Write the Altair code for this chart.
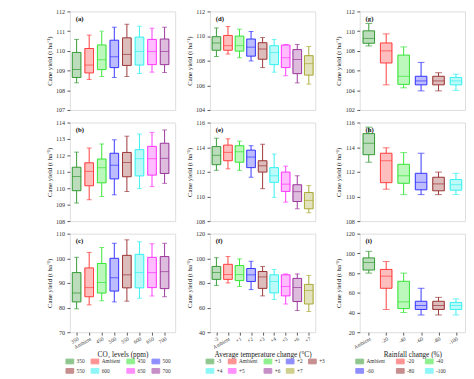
import altair as alt
import pandas as pd

FONT = "Liberation Serif"

# ---------------- categories ----------------
CO2_CATS = ["350", "Ambient", "450", "500", "550", "600", "650", "700"]
TEMP_CATS = ["-3", "Ambient", "+1", "+2", "+3", "+4", "+5", "+6", "+7"]
RAIN_CATS = ["Ambient", "-20", "-40", "-60", "-80", "-100"]

CO2_COLORS = ["#339933", "#ff3b3b", "#33e633", "#3333ff", "#993333", "#33f0f0", "#ff33ff", "#993399"]
TEMP_COLORS = ["#339933", "#ff3b3b", "#33e633", "#3333ff", "#993333", "#33f0f0", "#ff33ff", "#993399", "#a8a833"]
RAIN_COLORS = ["#339933", "#ff3b3b", "#33e633", "#3333ff", "#993333", "#33f0f0"]

# ---------------- (a) ----------------
a_low = [108.38, 108.55, 108.7, 108.65, 108.7, 108.85, 108.92, 108.9]
a_q1 = [108.65, 108.88, 109.05, 109.15, 109.26, 109.28, 109.3, 109.3]
a_med = [109.05, 109.28, 109.55, 109.7, 109.82, 109.97, 109.97, 109.97]
a_q3 = [109.92, 110.12, 110.3, 110.54, 110.66, 110.7, 110.58, 110.6]
a_high = [110.58, 110.8, 111.0, 111.2, 111.35, 111.25, 111.15, 111.2]
# ---------------- (b) ----------------
b_low = [109.1, 109.3, 109.5, 109.6, 109.8, 109.98, 110.1, 110.3]
b_q1 = [109.85, 110.15, 110.33, 110.57, 110.7, 110.75, 110.8, 110.9]
b_med = [110.72, 111.03, 111.25, 111.4, 111.57, 111.8, 111.8, 111.82]
b_q3 = [111.28, 111.55, 111.78, 112.13, 112.18, 112.35, 112.55, 112.74]
b_high = [112.2, 112.45, 112.7, 112.95, 113.17, 113.3, 113.4, 113.55]
# ---------------- (c) ----------------
c_low = [79.5, 81.1, 82.8, 82.3, 82.6, 83.8, 84.7, 84.4]
c_q1 = [82.3, 84.4, 85.9, 86.7, 88.0, 88.0, 88.1, 87.7]
c_med = [85.9, 88.1, 90.2, 92.1, 93.3, 94.2, 94.2, 94.6]
c_q3 = [94.2, 96.1, 97.9, 100.0, 101.2, 101.6, 100.4, 100.7]
c_high = [100.4, 102.4, 104.4, 106.1, 107.5, 106.7, 105.9, 106.1]
# ---------------- (d) ----------------
d_low = [108.34, 108.54, 108.24, 107.98, 107.44, 107.07, 106.78, 106.2, 106.1]
d_q1 = [108.85, 108.85, 108.78, 108.37, 108.12, 107.68, 107.44, 106.95, 106.83]
d_med = [109.44, 109.22, 109.22, 109.1, 108.95, 108.66, 108.24, 108.1, 107.76]
d_q3 = [109.95, 110.05, 110.0, 109.76, 109.46, 109.22, 109.27, 108.9, 108.41]
d_high = [110.66, 110.78, 110.56, 110.37, 109.88, 109.73, 109.32, 109.32, 109.15]
# ---------------- (e) ----------------
e_low = [112.12, 112.24, 112.12, 111.56, 110.63, 109.93, 109.54, 109.0, 108.68]
e_q1 = [112.58, 112.9, 112.78, 112.34, 111.98, 111.15, 110.41, 109.59, 109.0]
e_med = [113.34, 113.58, 113.63, 113.2, 112.49, 111.68, 111.0, 110.39, 109.68]
e_q3 = [114.05, 114.17, 114.12, 113.76, 112.9, 112.34, 111.98, 110.95, 110.32]
e_high = [114.73, 114.68, 114.49, 114.12, 114.24, 113.44, 112.46, 111.68, 110.88]
# ---------------- (f) ----------------
f_low = [78.0, 80.0, 77.1, 74.6, 69.5, 66.6, 62.9, 57.6, 56.8]
f_q1 = [82.9, 82.9, 81.9, 81.2, 75.6, 71.9, 69.5, 64.9, 62.9]
f_med = [88.5, 86.8, 86.8, 86.6, 84.9, 81.2, 77.1, 76.3, 73.9]
f_q3 = [93.4, 95.1, 94.1, 91.7, 89.3, 86.6, 86.6, 83.7, 78.8]
f_high = [100.5, 101.5, 99.5, 97.6, 93.4, 91.0, 87.3, 87.3, 86.1]
# ---------------- (g) ----------------
g_low = [108.5, 104.55, 104.25, 103.94, 103.94, 104.0]
g_q1 = [108.77, 106.77, 104.6, 104.55, 104.55, 104.55]
g_med = [109.26, 108.0, 105.42, 104.95, 104.95, 104.95]
g_q3 = [110.03, 108.8, 107.57, 105.42, 105.42, 105.3]
g_high = [110.77, 109.72, 108.4, 106.83, 105.78, 105.63]
# ---------------- (h) ----------------
h_low = [112.78, 110.59, 110.15, 110.15, 110.15, 110.15]
h_q1 = [113.39, 111.12, 111.07, 110.54, 110.46, 110.51]
h_med = [114.32, 112.9, 111.68, 111.15, 111.02, 110.95]
h_q3 = [115.1, 113.51, 112.61, 111.88, 111.56, 111.37]
h_high = [115.63, 113.95, 113.56, 113.51, 111.98, 111.88]
# ---------------- (i) ----------------
i_low = [80.0, 43.1, 40.0, 37.5, 37.5, 37.5]
i_q1 = [83.1, 64.6, 44.0, 43.1, 43.1, 43.1]
i_med = [90.8, 76.9, 50.8, 47.1, 47.1, 47.1]
i_q3 = [95.4, 83.7, 71.7, 51.4, 51.4, 50.2]
i_high = [102.1, 91.7, 80.0, 64.6, 55.4, 53.8]

W = 109
H = 102
YTITLE = "Cane yield (t ha\u207b\u00b9)"
LEG_SYMBOL = "M-1.15,-0.7L1.15,-0.7L1.15,0.7L-1.15,0.7Z"


def panel(cats, colors, low, q1, med, q3, high, ydom, yvals, label,
          bottom, xtitle, box, cap, pad, align, legcols, colpad):
    df = pd.DataFrame({"cat": cats, "low": low, "q1": q1, "med": med,
                       "q3": q3, "high": high})
    if bottom:
        xaxis = alt.Axis(title=xtitle, labelAngle=-30, labelFontSize=5.5,
                         labelFont=FONT, labelColor="#333", tickSize=3,
                         tickColor="#555", domain=False, labelPadding=1,
                         titleFont=FONT, titleFontSize=7.5,
                         titleFontWeight="normal", titleColor="#222",
                         titlePadding=1)
    else:
        xaxis = None
    x = alt.X("cat:N", sort=cats, axis=xaxis,
              scale=alt.Scale(type="point", domain=cats, padding=pad, align=align))
    ys = alt.Scale(domain=ydom, nice=False, zero=False)
    yaxis = alt.Axis(title=YTITLE, values=yvals, labelFontSize=6.3,
                     labelFont=FONT, labelColor="#333", tickSize=3,
                     tickColor="#555", domain=False, grid=False,
                     labelOverlap=False, labelFlush=False, labelBound=False,
                     labelPadding=2.5, titleFont=FONT, titleFontSize=7,
                     titleFontWeight="normal", titleColor="#222",
                     titlePadding=3.5)
    if bottom:
        leg = alt.Legend(orient="none", legendX=-4, legendY=H + 26,
                         direction="horizontal",
                         columns=legcols, title=None, symbolType=LEG_SYMBOL,
                         symbolSize=49, symbolStrokeWidth=1,
                         symbolOpacity=0.55, labelFont=FONT,
                         labelFontSize=5.5, labelColor="#333",
                         labelOffset=3, columnPadding=colpad, rowPadding=0,
                         padding=0)
    else:
        leg = None
    color = alt.Color("cat:N", sort=cats, legend=leg,
                      scale=alt.Scale(domain=cats, range=colors))
    base = alt.Chart(df).encode(x=x, color=color)

    def Y(field):
        return alt.Y(field, scale=ys, axis=yaxis)

    fillbar = base.mark_bar(size=box, fillOpacity=0.33).encode(
        y=Y("q1:Q"), y2="q3:Q")
    whisk = base.mark_rule(strokeWidth=1).encode(y=Y("low:Q"), y2="high:Q")
    cover = base.mark_bar(size=box - 1, fill="white", stroke=None).encode(
        y=Y("q1:Q"), y2="q3:Q", color=alt.value("white"))
    fillbar_top = base.mark_bar(size=box, fillOpacity=0.33, stroke=None).encode(
        y=Y("q1:Q"), y2="q3:Q")
    outline = base.mark_bar(size=box, filled=False, strokeWidth=1).encode(
        y=Y("q1:Q"), y2="q3:Q")
    medtick = base.mark_tick(size=box, thickness=1).encode(y=Y("med:Q"))
    cap_lo = base.mark_tick(size=cap, thickness=1).encode(y=Y("low:Q"))
    cap_hi = base.mark_tick(size=cap, thickness=1).encode(y=Y("high:Q"))
    lab = alt.Chart(pd.DataFrame({"t": [label]})).mark_text(
        font=FONT, fontSize=7, fontWeight="bold", align="left",
        baseline="middle", color="#111").encode(
        text="t:N", x=alt.value(6), y=alt.value(8))
    layer = alt.layer(fillbar, whisk, cover, fillbar_top, outline, medtick,
                      cap_lo, cap_hi, lab).properties(width=W, height=H)
    return layer


def column(cats, colors, data, labels, doms, vals, xtitle, box, cap, pad,
           align, legcols, colpad):
    panels = []
    for k in range(3):
        lo, q1, md, q3, hi = data[k]
        panels.append(panel(cats, colors, lo, q1, md, q3, hi, doms[k], vals[k],
                            labels[k], k == 2, xtitle, box, cap, pad, align,
                            legcols, colpad))
    return alt.vconcat(*panels, spacing=5).resolve_scale(color="independent")


col1 = column(CO2_CATS, CO2_COLORS,
              [(a_low, a_q1, a_med, a_q3, a_high),
               (b_low, b_q1, b_med, b_q3, b_high),
               (c_low, c_q1, c_med, c_q3, c_high)],
              ["(a)", "(b)", "(c)"],
              [[107, 112], [108, 114], [70, 110]],
              [[107, 108, 109, 110, 111, 112], [108, 109, 110, 111, 112, 113, 114],
               [70, 80, 90, 100, 110]],
              "CO\u2082 levels (ppm)", 9, 5, 0.69, 0.39, 4, 3)

col2 = column(TEMP_CATS, TEMP_COLORS,
              [(d_low, d_q1, d_med, d_q3, d_high),
               (e_low, e_q1, e_med, e_q3, e_high),
               (f_low, f_q1, f_med, f_q3, f_high)],
              ["(d)", "(e)", "(f)"],
              [[104, 112], [108, 116], [40, 120]],
              [[104, 106, 108, 110, 112], [108, 110, 112, 114, 116],
               [40, 60, 80, 100, 120]],
              "Average temperature change (\u00b0C)", 9, 5, 0.56, 0.5, 5, 3)

col3 = column(RAIN_CATS, RAIN_COLORS,
              [(g_low, g_q1, g_med, g_q3, g_high),
               (h_low, h_q1, h_med, h_q3, h_high),
               (i_low, i_q1, i_med, i_q3, i_high)],
              ["(g)", "(h)", "(i)"],
              [[102, 112], [108, 116], [20, 120]],
              [[102, 104, 106, 108, 110, 112], [108, 110, 112, 114, 116],
               [20, 40, 60, 80, 100, 120]],
              "Rainfall change (%)", 12, 7, 0.52, 0.5, 3, 8)

chart = alt.hconcat(col1, col2, col3, spacing=9,
                    padding={"left": 38, "top": -7, "right": 0, "bottom": 0}
                    ).resolve_scale(color="independent").configure_view(
    stroke="#8a8a8a", strokeWidth=1.3).configure_axis(
    labelOverlap=False, labelFlush=False, labelBound=False).configure(
    background="white")

chart.save("out.html", embed_options={"renderer": "svg", "actions": False})
